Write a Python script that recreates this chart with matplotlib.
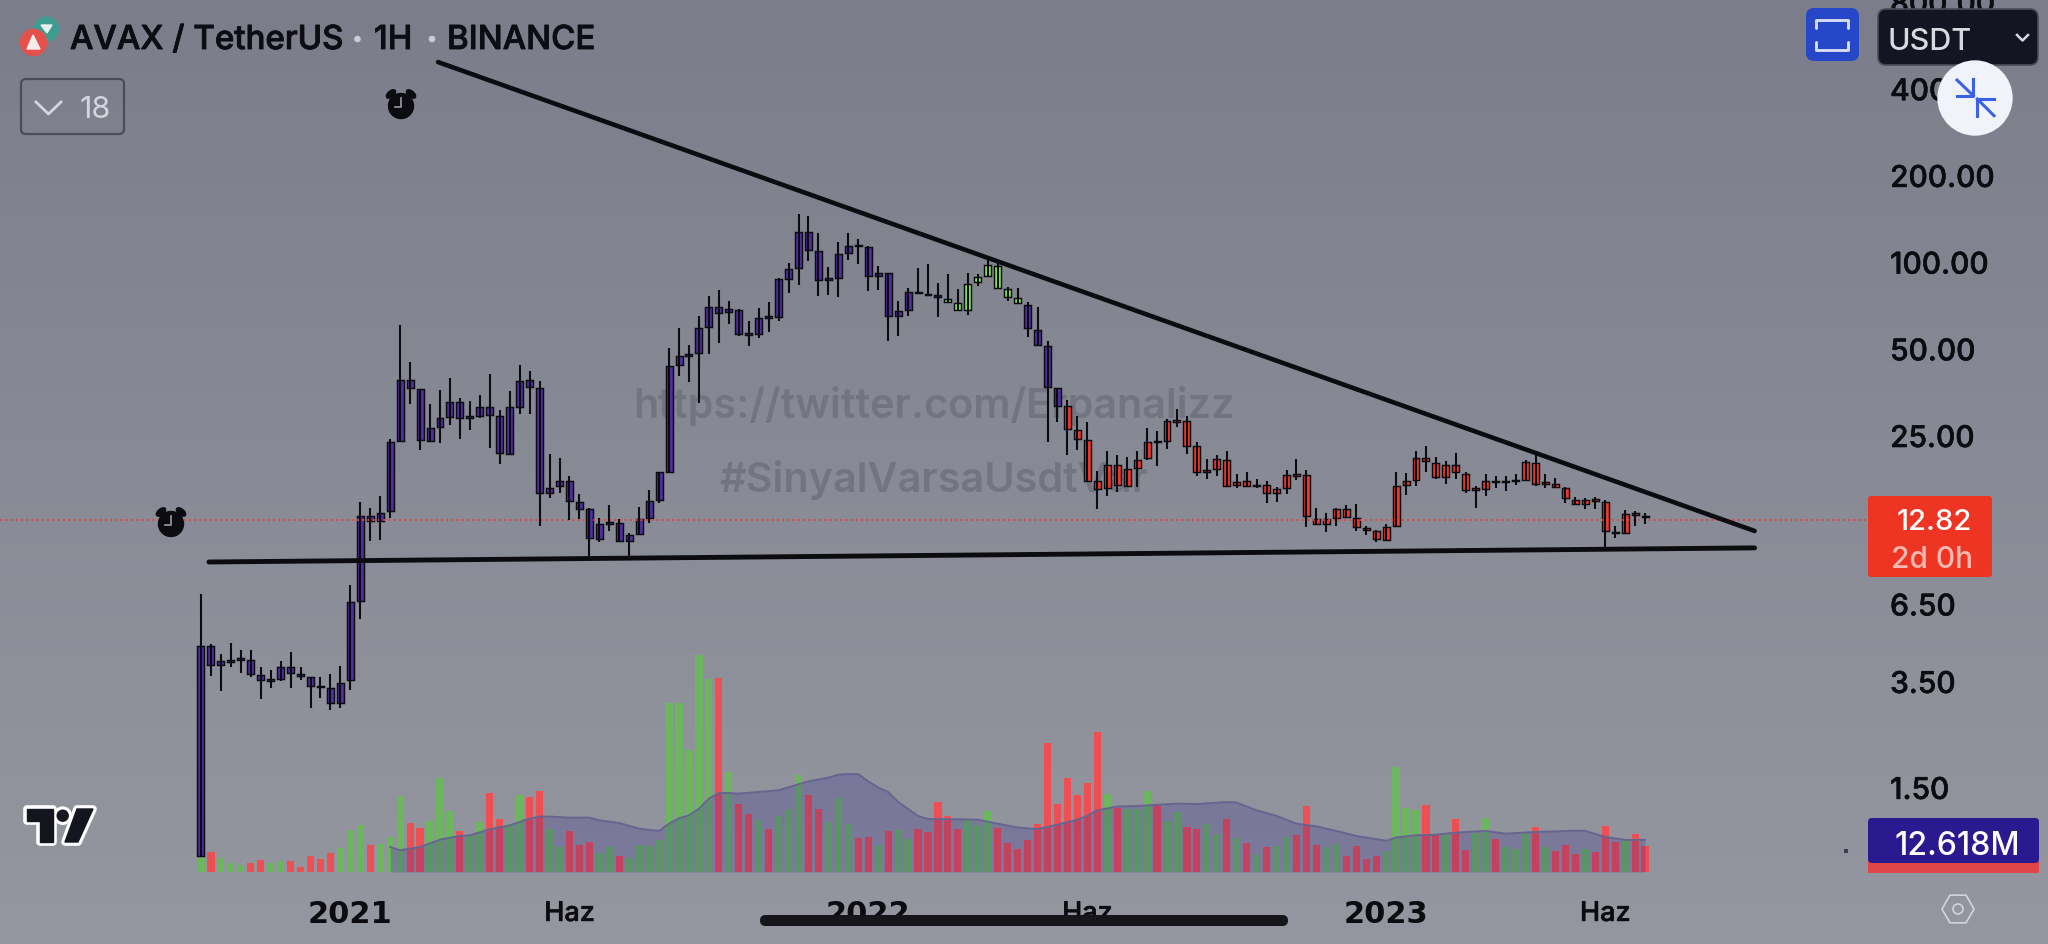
import numpy as np
import matplotlib
matplotlib.use('Agg')
import matplotlib.pyplot as plt
import matplotlib.patheffects as pe
from matplotlib.patches import Circle, Ellipse, FancyBboxPatch, Polygon, RegularPolygon

plt.rcParams['font.family'] = ['Inter', 'DejaVu Sans']

# =========== data ===============================
high = [7.07,4.74,4.38,4.78,4.53,4.53,3.95,3.86,4.15,4.46,3.93,3.63,3.65,3.73,3.99,7.6,14.8,14.1,15.5,24.5,60.7,45.3,36.4,32.2,36,39.6,33.8,33,34.8,41,30.8,35.7,44.2,41.9,38.8,21.6,20.9,18.1,15.7,14.1,13,14.4,12.9,11.5,14.2,16.2,18.8,50.5,59.1,51.9,65.1,76.4,80.1,73.6,68.8,62.5,69.6,73.2,88.7,100,147,145,127,96.8,118,127,121,114,97.6,92,73.8,81.4,95.5,98.9,85,91.3,81,92,91.3,102,102,82.1,81.6,73.2,69.9,53.3,36.8,33.3,29.3,27.9,18.9,22.1,21.5,21.2,22.2,26.6,26,28.6,31,29.4,23.9,20.8,21.4,22.1,18.4,18.7,17.7,17.4,16.6,19,20.8,19,14.1,13.5,14.1,14.4,14.5,12.2,11.8,12.4,18.7,18.6,22.1,23,21.1,20.4,21.8,18.8,16.8,18.5,18.1,18.1,18.5,20.6,21.6,18.4,17.8,16.6,15.4,15.2,15.3,15,12.2,13.8,13.7,13.5]
body_top = [4.68,4.68,4.15,4.18,4.23,4.18,3.71,3.58,3.93,3.94,3.74,3.63,3.4,3.33,3.48,6.61,13.2,13.2,13.5,23.8,39.2,39.2,36.3,26.7,28.9,32.8,32.8,29.3,31.6,31.6,29.4,31.4,38.8,39.1,36.7,16.5,17.4,17.4,14.8,13.9,12.4,12.6,12.5,11.3,12.9,14.9,18.8,43.9,47.5,48.2,59.4,69.9,69.9,68.8,68.6,56.8,64.4,65.3,87.7,95.3,128,128,110,88.2,107,114,115,113,92,92,67.7,79.1,78.8,78,77.2,74.8,72.2,84.5,89.4,98.1,97.3,81,75.2,71.4,58.5,51.5,36.7,31.7,26.3,24.2,17.4,19.8,19.8,19.2,20.6,23.8,24.1,28.1,28.3,28.2,23,19,20.8,20.7,17.3,17.4,16.9,16.9,16.4,18.3,18.5,18.3,12.9,12.9,13.9,13.9,13,12,11.7,12.1,16.8,17.5,21,21,20.2,19.8,19.8,18.5,16.5,17.5,17.5,17.5,17.6,20.3,20.1,17.3,17.1,16.5,15,15,15.1,14.8,11.6,13.4,13.5,13.2]
body_bot = [0.87,4.02,4.02,4.12,4.16,3.73,3.54,3.53,3.58,3.77,3.66,3.4,3.35,2.95,2.96,3.54,6.67,12.7,12.7,13.7,24,36.6,24.2,24.1,26.9,29.1,28.9,28.9,29.4,29.6,21.8,21.7,31.6,36.9,15.9,15.8,16.7,14.9,14,11.1,11,12.4,10.8,10.8,11.4,13,15,18.8,44.1,47.5,48.4,59.6,67,67.6,56.7,56.2,56.7,64.4,64.6,87.7,95.8,111,87,87,88.4,108,114,90.1,90.1,65.4,65.3,68.3,78.2,77.2,75.8,72.8,68.5,68.5,85.4,90.1,81.6,75.8,72.2,59.1,51.7,36.9,31.9,26.4,24.4,17.4,16.4,16.5,16.9,16.8,19.4,20.9,23.8,24,27.9,23.1,18.7,18.8,19.2,16.8,16.9,16.7,16.7,15.9,15.9,16.5,18.2,13.2,12.4,12.4,13,13.1,12.1,11.8,11,10.9,12.2,16.9,17.6,20.4,18,18,18.7,16.2,16.2,16.4,17.3,17.3,17.4,17.6,17,17,16.6,15.2,14.5,14.5,14.9,11.7,11.5,11.5,13.3,13.1]
low = [0.87,3.68,3.26,3.93,3.75,3.63,3.05,3.33,3.52,3.33,3.56,2.85,3.09,2.8,2.83,3.28,5.79,10.8,10.9,13,24,32.3,22.4,23.9,23.6,27.3,24.5,26.2,28.8,22.7,20,21.6,29.8,29.9,12.2,15.2,15.9,12.8,12.9,9.55,10.7,11.7,10.8,9.55,11.4,12.5,14.6,18.7,40.5,38.6,32.5,48.2,52.7,61.4,55.8,51.5,54.6,57.3,62.7,78.6,83.8,101,76.8,77.2,76.2,102,98.9,79.7,80.5,53.6,55.8,65.1,78.2,77.2,64.9,72.4,67.7,66,83.2,89.1,81.4,73.4,72,55.3,51.2,23.8,27.9,21.5,22.4,17.4,13.9,15.5,16,16.6,16.6,20.7,19.7,22.5,26.8,21.6,18.2,17.7,18.1,16.6,16.5,16.6,16.5,14.6,14.8,15.7,17.6,12.1,12.3,11.6,12.2,13,11.7,11.3,10.7,10.9,12.2,15.6,16.7,18.8,17.7,17.1,17.7,15.9,14.1,15.5,16.5,16.1,16.9,17.6,16.7,16.5,16.5,14.6,14.4,13.9,14,10.3,11.1,11.4,12.2,12.4]
# bar colour groups: p purple, g green, r red
candle_groups = [('p', 75), ('g', 8), ('p', 4), ('r', 59)]

volume = [6.9,9.6,6.9,4.3,3.5,4.3,5.8,4.3,5.1,5.4,2.6,7.5,6.1,9.0,11.7,20.3,22.7,13.1,13.4,16.6,36.5,23.7,21.3,24.5,45.1,29.3,19.8,17.6,24.0,37.9,25.6,23.0,37.1,36.0,39.0,20.5,12.2,19.5,13.1,14.6,9.1,12.2,7.5,6.7,13.1,12.5,15.2,81.3,81.3,58.4,104.3,92.8,93.3,48.0,32.8,28.0,25.0,20.8,26.9,30.4,46.7,36.8,30.4,24.0,35.5,23.2,16.3,17.0,12.8,19.5,20.5,15.7,20.8,19.2,33.6,27.0,20.6,25.1,22.4,29.1,21.3,13.9,11.0,15.2,23.2,62.1,32.5,45.1,37.1,42.7,67.4,37.6,30.7,30.4,30.4,38.7,32.8,24.3,28.8,21.6,20.5,23.2,18.4,25.6,16.3,13.9,8.3,11.8,12.5,17.0,17.8,31.8,13.1,12.2,13.4,7.5,12.5,6.1,7.5,10.1,50.4,30.7,29.8,32.3,17.9,18.4,25.6,10.7,18.7,25.9,16.0,12.0,10.9,18.4,21.6,12.0,9.9,12.8,8.8,10.9,9.6,21.9,14.4,15.4,18.4,12.6]
volume_dir = ('grgggrrggr' 'rrrrgggrgg' 'grrgggrggr' 'rggrrggrrr' 'ggrggggggg'
              'ggrgrrgrgg' 'grrgggrrgr' 'ggrrrrrggg' 'rrrrrrrrrr' 'rgrgggrggr'
              'rggrgrgrgg' 'rrrggrrrrg' 'gggrrgrrgg' 'rgggrgrrrg' 'rrrgrr')

# volume average, read at these bars
ma_bar = [19,20,22,24,26,27,29,31,33,34,35,37,39,40,42,44,46,47,48,49,50,51,52,53,54,56,58,60,61,63,64,65,66,67,68,69,70,72,73,76,78,80,82,84,86,88,89,90,92,94,98,100,103,104,106,108,110,112,114,116,119,120,122,124,126,129,131,134,138,139,141,143,145]
ma_value = [12,10.4,12,15.5,17.3,17.6,20.5,22.4,25.6,26.6,26.6,26.1,26.1,24.8,23.5,20.8,19.7,23.2,25.8,27.2,30.4,35.2,37.9,37.9,37.6,38.4,39.2,42.1,43.5,45.3,46.7,47,47,43.5,40.5,38.4,33.6,26.9,25.4,25.3,25.1,23.2,21.3,20.6,22.7,25.1,26.9,29.6,31.4,31.7,32.8,32.6,33.6,33.3,29.6,26.9,23.2,21.9,19.7,17.3,15,16.6,17.6,17.9,18.9,19.7,18.4,19.2,19.8,19.7,16.8,15.4,15.4]

last_price = 12.82
price_ticks = [800, 400, 200, 100, 50, 25, 6.5, 3.5, 1.5]
time_ticks = [15, 37, 67, 89, 119, 141]
time_labels = ['2021', 'Haz', '2022', 'Haz', '2023', 'Haz']

# trend lines drawn by the author: (bar, price)
upper_x, upper_y = [23.8, 156], [497, 11.7]
lower_x, lower_y = [0.8, 156], [9.13, 10.22]

# =========== colours ============
PURPLE = '#512ea2'
GREEN = '#84ea50'
RED = '#f4372b'
VOL_GREEN = '#6cb65e'
VOL_RED = '#ef4f52'
DARK = '#0b0b10'
body_colors = {'p': PURPLE, 'g': GREEN, 'r': RED}

fig = plt.figure(figsize=(20.48, 9.45), dpi=100)


def full_axes(zorder):
    a = fig.add_axes([0, 0, 1, 1], zorder=zorder)
    a.patch.set_alpha(0)
    a.axis('off')
    return a


def heavier(color, width=0.4):
    return [pe.withStroke(linewidth=width, foreground=color)]


# =========== background and watermark (pixel space) ============
bg = full_axes(0)
gradient = np.linspace(0, 1, 256).reshape(-1, 1)
top_c, bot_c = np.array([123, 126, 138]) / 255, np.array([149, 151, 160]) / 255
bg.imshow(top_c + (bot_c - top_c) * gradient[:, :, None], extent=(0, 2048, 945, 0), aspect='auto')
bg.set_xlim(0, 2048)
bg.set_ylim(945, 0)
bg.text(934, 406, 'https://twitter.com/Erpanalizz', color='#72747f', fontsize=29.8,
        fontweight='semibold', ha='center', va='center')
bg.text(934, 479.5, '#SinyalVarsaUsdtVar', color='#72747f', fontsize=29.8,
        fontweight='semibold', ha='center', va='center')

# =========== volume ============
ax_vol = full_axes(1)
ax_vol.set_xlim(-20.18, 185.46)
ax_vol.set_ylim(-34.56, 419)
bars = np.arange(len(volume))
ax_vol.bar(bars, volume, width=0.72, linewidth=0,
           color=[VOL_GREEN if d == 'g' else VOL_RED for d in volume_dir])
ax_vol.fill_between(ma_bar, 0, ma_value, color='#2b1a8f', alpha=0.22, linewidth=0)
ax_vol.plot(ma_bar, ma_value, color='#66658f', linewidth=1.4)

# =========== candles ============
ax = full_axes(2)
ax.set_yscale('log')
ax.set_xlim(-20.18, 185.46)
ax.set_ylim(0.4306, 822.8)
ax.axis('off')
idx = np.arange(len(high))
fill = [body_colors[c] for c, n in candle_groups for _ in range(n)]
ax.hlines(last_price, -20.18, 167.4, color='#e8453e', linewidth=1.4, linestyles=(0, (1, 1.7)))
ax.vlines(idx, low, high, color=DARK, linewidth=1.5, capstyle='butt')
ax.bar(idx, np.array(body_top) - np.array(body_bot), bottom=body_bot, width=0.7,
       color=fill, edgecolor=DARK, linewidth=1.05)
ax.plot(upper_x, upper_y, color=DARK, linewidth=3.3, solid_capstyle='round')
ax.plot(lower_x, lower_y, color=DARK, linewidth=3.5, solid_capstyle='round')

for p in price_ticks:
    ax.text(0.9229, p, f'{p:.2f}', transform=ax.get_yaxis_transform(), color=DARK, fontsize=21.5,
            fontweight='medium', ha='left', va='center_baseline', path_effects=heavier(DARK))
for t, lab in zip(time_ticks, time_labels):
    if lab == 'Haz':
        ax.text(t, 0.035, lab, transform=ax.get_xaxis_transform(), color=DARK, fontsize=19.5,
                fontweight='medium', ha='center', va='center_baseline', path_effects=heavier(DARK))
    else:
        ax.text(t, 0.035, lab, transform=ax.get_xaxis_transform(), color=DARK, fontsize=22,
                family='DejaVu Sans', fontweight='bold', ha='center', va='center_baseline')

# =========== app interface on top (pixel space) ============
ui = full_axes(3)
ui.set_xlim(0, 2048)
ui.set_ylim(945, 0)


def rbox(x0, y0, x1, y1, color, radius=6, **kw):
    kw.setdefault('edgecolor', 'none')
    ui.add_patch(FancyBboxPatch((x0, y0), x1 - x0, y1 - y0, boxstyle=f'round,pad=0,rounding_size={radius}',
                                facecolor=color, **kw))


def alarm(cx, cy):
    for sign in (-1, 1):
        ui.add_patch(Ellipse((cx + sign * 10, cy - 11), 11, 6, angle=sign * 40, color=DARK))
    ui.add_patch(Circle((cx, cy + 1), 12.5, color=DARK))
    ui.plot([cx - 0.5, cx - 0.5, cx - 6], [cy - 7, cy + 2, cy + 2], color='#9a9ca6', linewidth=1.2)


# header
ui.add_patch(Circle((46.5, 30), 12, color='#3d9b90'))
ui.add_patch(Polygon([(41, 26), (52, 26), (47, 34)], color='#e6f2f0'))
ui.add_patch(Circle((33.5, 43.5), 13, color='#e5504a'))
ui.add_patch(Polygon([(33, 36), (40, 50), (27, 50)], color='#f6ecec'))
header_color = '#0c0c12'
for x0, label in ((70, 'AVAX / TetherUS'), (374, '1H'), (447, 'BINANCE')):
    ui.text(x0, 50, label, color=header_color, fontsize=23.8, fontweight='medium', va='baseline',
            path_effects=heavier(header_color, 0.6))
for dot_x in (357.5, 432):
    ui.add_patch(Circle((dot_x, 40), 2.6, color='#c9ccd3'))

# collapsed indicators box
rbox(21, 80, 124, 135, 'none', radius=5, edgecolor='#494c5b', linewidth=1.6)
ui.plot([36, 48.5, 61], [103, 115, 103], color='#d3d6dd', linewidth=2)
ui.text(95.5, 107.5, '18', color='#d3d6dd', fontsize=22, ha='center', va='center_baseline')

alarm(401, 106)
alarm(171, 524)

# top right buttons
rbox(1806, 9, 1859, 62, '#2647c8', radius=8)
ui.plot([1816.3, 1816.3, 1848.3, 1848.3], [29, 20.7, 20.7, 29], color='#d7dcf0', linewidth=2.1,
        solid_joinstyle='round', solid_capstyle='round')
ui.plot([1816.3, 1816.3, 1848.3, 1848.3], [42.7, 51, 51, 42.7], color='#d7dcf0', linewidth=2.1,
        solid_joinstyle='round', solid_capstyle='round')
rbox(1878, 10, 2038, 66, '#131622', radius=8, edgecolor='#4a4d5a', linewidth=1.2)
ui.text(1887, 39.5, 'USDT', color='#d8dae0', fontsize=22, fontweight='medium', va='center_baseline')
ui.plot([2017, 2022.5, 2028], [36, 41.5, 36], color='#d8dae0', linewidth=1.8)
ui.add_patch(Circle((1975, 99), 37, color='#f0f3fa'))
arrow_blue = '#3b62e6'
ui.plot([1956.7, 1973.3, 1973.3], [96.7, 96.7, 80], color=arrow_blue, linewidth=2.2)
ui.plot([1957, 1973.3], [81, 96.7], color=arrow_blue, linewidth=2.2)
ui.plot([1994, 1977.3, 1977.3], [100, 100, 116.7], color=arrow_blue, linewidth=2.2)
ui.plot([1994, 1977.3], [116.7, 100], color=arrow_blue, linewidth=2.2)

# price and volume labels on the scale
rbox(1868, 497, 1992, 578, '#ee3524', radius=3)
ui.text(1934, 520, f'{last_price:.2f}', color='white', fontsize=21, fontweight='medium',
        ha='center', va='center_baseline')
ui.text(1932, 557, '2d 0h', color='#f9b9b0', fontsize=21.5, fontweight='medium',
        ha='center', va='center_baseline')
ui.add_patch(plt.Rectangle((1868, 862), 171, 12, color='#e0454a', linewidth=0))
rbox(1868, 819, 2039, 864, '#2b1a8f', radius=4)
ui.text(1957, 843, '12.618M', color='white', fontsize=23, fontweight='medium',
        ha='center', va='center_baseline')
ui.add_patch(plt.Rectangle((1843.5, 850), 4, 4, color='#3a3d55', linewidth=0))

# settings hexagon
ui.add_patch(RegularPolygon((1958, 910), 6, radius=16, orientation=np.pi / 6, facecolor='none',
                            edgecolor='#d3d5da', linewidth=1.2))
ui.add_patch(Circle((1958, 910), 5, facecolor='none', edgecolor='#d3d5da', linewidth=1.2))

# TradingView logo
logo = dict(facecolor='#14151f', edgecolor='white', linewidth=5.5, joinstyle='round')
ui.add_patch(Polygon([(27, 810), (53, 810), (53, 843), (39.5, 843), (39.5, 821.5), (27, 821.5)], **logo))
ui.add_patch(Circle((62.7, 816.7), 5.5, **logo))
ui.add_patch(Polygon([(77, 810), (93, 810), (78, 843), (65, 843)], **logo))
for shape in ([(27, 810), (53, 810), (53, 843), (39.5, 843), (39.5, 821.5), (27, 821.5)],
              [(77, 810), (93, 810), (78, 843), (65, 843)]):
    ui.add_patch(Polygon(shape, color='#14151f'))
ui.add_patch(Circle((62.7, 816.7), 5.5, color='#14151f'))

# phone home bar
rbox(760, 916, 1288, 927, '#16161a', radius=5.5)

fig.savefig('out.png', dpi=100)
